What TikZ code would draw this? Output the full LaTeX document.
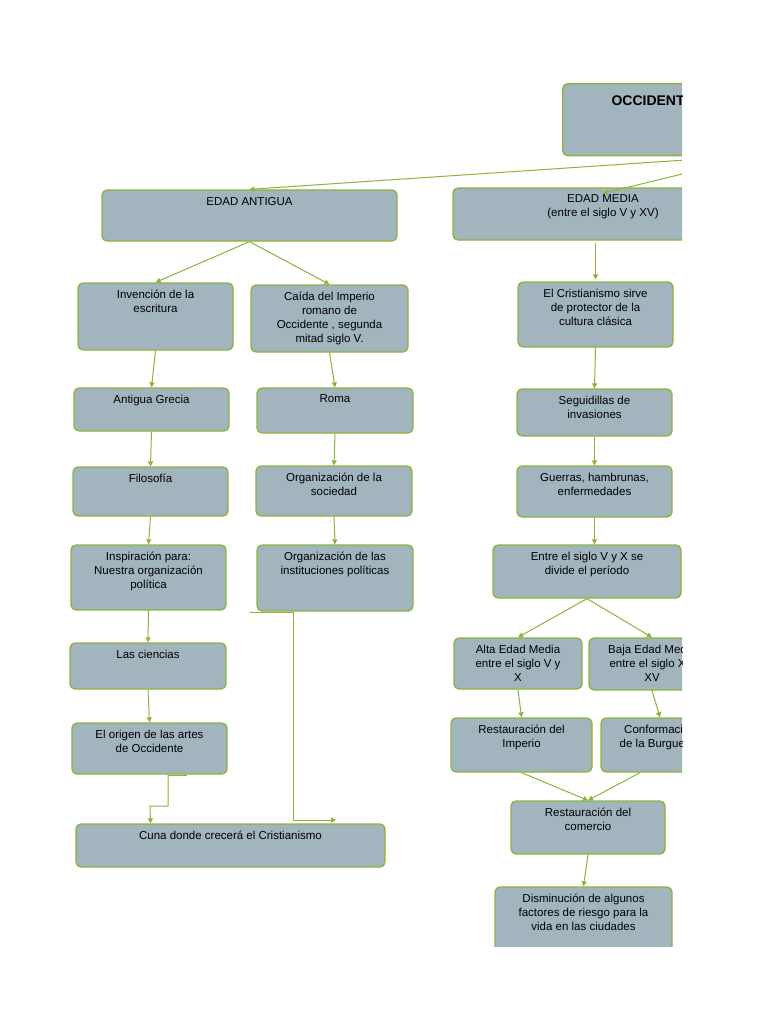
\documentclass[tikz,border=0pt]{standalone}
\usepackage{fontspec}
\setmainfont{Liberation Sans}
\usetikzlibrary{arrows.meta}
\definecolor{boxfill}{HTML}{A2B4BE}
\definecolor{boxline}{HTML}{8DB33A}
\tikzset{
  box/.style={draw=boxline, fill=boxfill, line width=1.3pt, rounded corners=5pt, inner sep=0pt},
  link/.style={draw=boxline, line width=1pt, -{Triangle[width=5pt,length=5pt]}},
  plain/.style={draw=boxline, line width=1pt}
}
% box from left, top, right, bottom
\newcommand\bx[6]{%
  \pgfmathsetmacro\bxw{#4-#2}\pgfmathsetmacro\bxh{#5-#3}%
  \node[box] (#1) at ({(#2+#4)/2},{(#3+#5)/2})
    {\parbox[c][\bxh pt][t]{\bxw pt}{\centering\fontsize{11.5}{14}\selectfont\vspace{7pt}#6}};}
\begin{document}
\begin{tikzpicture}[x=1pt,y=-1pt]
\useasboundingbox (0,0) rectangle (768,1024);
\begin{scope}
\clip (0,0) rectangle (682,946);
\node[box, minimum width=198pt, minimum height=72pt, anchor=north west] (occ) at (562,83) {};
\node[font=\bfseries\fontsize{14}{16}\selectfont, anchor=north west] (occt) at (608,92) {OCCIDENTE};
\coordinate (occsrc) at (760,155);
\bx{ant}{102}{190}{397}{241}{EDAD ANTIGUA}
\bx{med}{453}{188}{753}{240}{EDAD MEDIA\\(entre el siglo V y XV)}
\bx{esc}{78}{283}{233}{350}{Invención de la\\escritura}
\bx{cai}{251}{285}{408}{352}{Caída del Imperio\\romano de\\Occidente , segunda\\mitad siglo V.}
\bx{cri}{518}{282}{673}{347}{El Cristianismo sirve\\de protector de la\\cultura clásica}
\bx{gre}{74}{388}{229}{431}{Antigua Grecia}
\bx{rom}{257}{388}{413}{433}{Roma}
\bx{inv}{517}{389}{672}{436}{Seguidillas de\\invasiones}
\bx{fil}{73}{467}{228}{516}{Filosofía}
\bx{soc}{256}{466}{412}{516}{Organización de la\\sociedad}
\bx{gue}{517}{466}{672}{517}{Guerras, hambrunas,\\enfermedades}
\bx{ins}{71}{545}{226}{610}{Inspiración para:\\Nuestra organización\\política}
\bx{pol}{257}{545}{413}{611}{Organización de las\\instituciones políticas}
\bx{div}{493}{545}{681}{598}{Entre el siglo V y X se\\divide el período}
\bx{cie}{70}{643}{226}{689}{Las ciencias}
\bx{alt}{454}{638}{582}{689}{Alta Edad Media\\entre el siglo V y\\X}
\bx{baj}{589}{638}{715}{690}{Baja Edad Media\\entre el siglo X y\\XV}
\bx{art}{72}{723}{227}{774}{El origen de las artes\\de Occidente}
\bx{res}{451}{718}{592}{772}{Restauración del\\Imperio}
\bx{bur}{601}{718}{719}{772}{Conformación\\de la Burguesía}
\bx{cun}{76}{824}{385}{867}{Cuna donde crecerá el Cristianismo}
\bx{com}{511}{801}{665}{854}{Restauración del\\comercio}
\bx{dis}{495}{887}{672}{960}{Disminución de algunos\\factores de riesgo para la\\vida en las ciudades}
% connectors
\draw[link] (occsrc) -- (ant.north);
\draw[link] (occsrc) -- ([yshift=-6pt]med.north);
\draw[link] (ant.south) -- (esc.north);
\draw[link] (ant.south) -- (cai.north);
\draw[link] (esc.south) -- (gre.north);
\draw[link] (cai.south) -- (rom.north);
\draw[link] (gre.south) -- (fil.north);
\draw[link] (rom.south) -- (soc.north);
\draw[link] (fil.south) -- (ins.north);
\draw[link] (soc.south) -- (pol.north);
\draw[link] (ins.south) -- (cie.north);
\draw[link] (cie.south) -- (art.north);
\coordinate (artout) at (168,775);
\coordinate (artmark) at (187,775);
\draw[plain] (artout) -- (artmark);
\draw[link] (artout) |- (150,806) -- ([xshift=0.5pt]cun.north -| 150,0);
\coordinate (polout) at (293,612);
\coordinate (polmark) at (250,612);
\coordinate (cunin) at (336,820);
\draw[plain] (polmark) -- (polout);
\draw[link] (polout) |- (cunin);
\draw[link] ([yshift=-2pt]med.south -| cri.north) -- ([yshift=2pt]cri.north);
\draw[link] (cri.south) -- (inv.north);
\draw[link] (inv.south) -- (gue.north);
\draw[link] (gue.south) -- (gue.south |- div.north);
\draw[link] (div.south) -- (alt.north);
\draw[link] (div.south) -- (baj.north);
\draw[link] (alt.south) -- (res.north);
\draw[link] (baj.south) -- (bur.north);
\draw[link] (res.south) -- (com.north);
\draw[link] ([xshift=-20pt]bur.south) -- (com.north);
\draw[link] (com.south) -- (dis.north);
\end{scope}
\end{tikzpicture}
\end{document}
